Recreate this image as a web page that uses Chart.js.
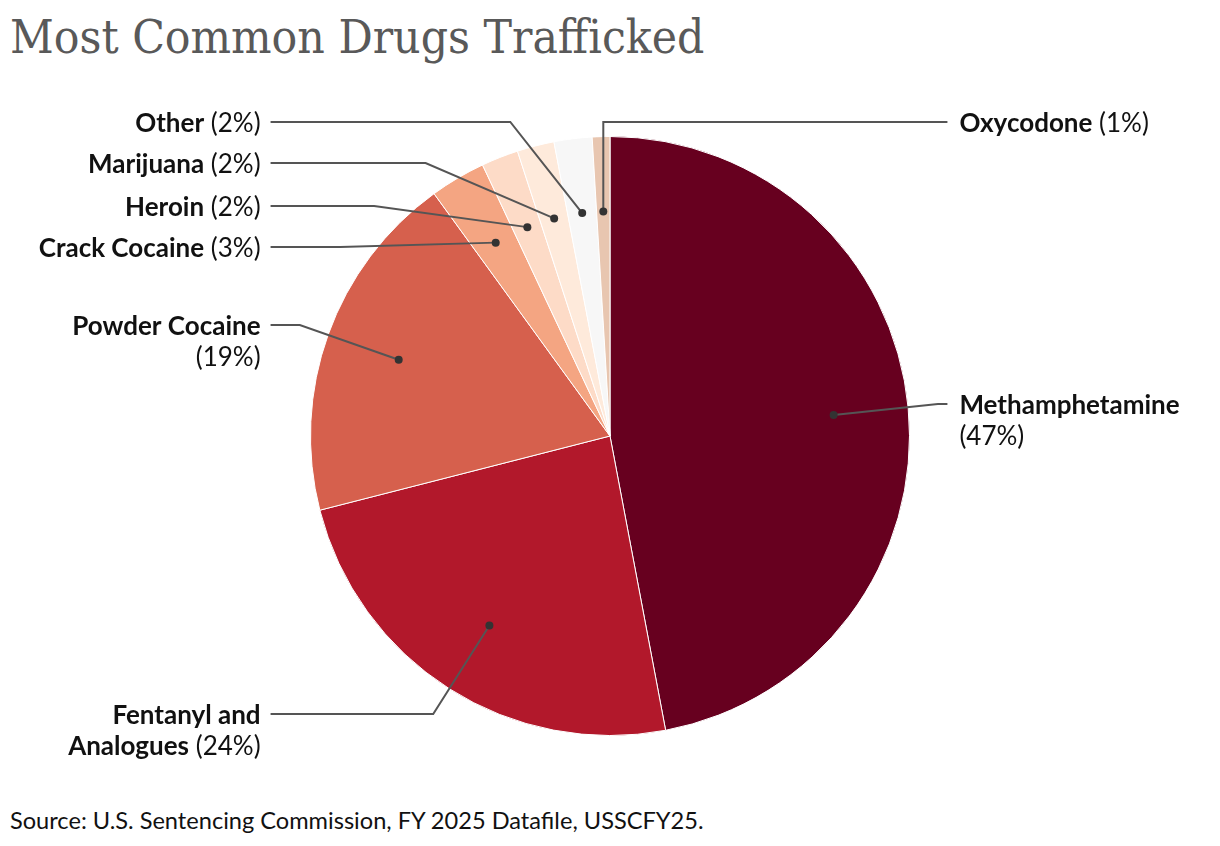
<!DOCTYPE html>
<html>
<head>
<meta charset="utf-8">
<script src="https://cdn.jsdelivr.net/npm/chart.js@4.4.1/dist/chart.umd.min.js"></script>
<style>
  html, body { margin: 0; padding: 0; background: #fff; }
  body { width: 1220px; height: 846px; position: relative; overflow: hidden; }
  #title {
    position: absolute; left: 10px; top: 9px; margin: 0;
    font-family: "DejaVu Serif Condensed", "DejaVu Serif", serif;
    font-weight: normal; font-size: 47.5px; color: #595959; white-space: nowrap;
  }
  #wrap { position: absolute; left: 0; top: 80px; width: 1220px; height: 712px; }
  #source {
    position: absolute; left: 10px; top: 806px;
    font-family: Lato, "Open Sans", sans-serif; font-size: 23.6px; color: #111;
  }
</style>
</head>
<body>
<h1 id="title">Most Common Drugs Trafficked</h1>
<div id="wrap"><canvas id="pie"></canvas></div>
<div id="source">Source: U.S. Sentencing Commission, FY 2025 Datafile, USSCFY25.</div>
<script>
// data, clockwise from 12 o'clock
const drugs = ["Methamphetamine", "Fentanyl and Analogues", "Powder Cocaine", "Crack Cocaine",
               "Heroin", "Marijuana", "Other", "Oxycodone"];
const shares = [47.05, 24.0, 19.0, 3.0, 2.0, 2.0, 2.05, 0.95];
const pctText = ["47%", "24%", "19%", "3%", "2%", "2%", "2%", "1%"];
const colors = ["#67001f", "#b2182b", "#d6604d", "#f4a582", "#fddbc7", "#feeadb", "#f7f7f7", "#e8c6b0"];

// how the labels are written and placed (offset from pie centre)
const nameLines = [["Methamphetamine"], ["Fentanyl and", "Analogues"], ["Powder Cocaine"], ["Crack Cocaine"],
                   ["Heroin"], ["Marijuana"], ["Other"], ["Oxycodone"]];
const pctNewLine = [true, false, true, false, false, false, false, false];
const labelSide = ["right", "left", "left", "left", "left", "left", "left", "right"];
const labelDy = [-32, 278, -111, -189, -230, -273, -314, -314];
const straight = [false, false, false, false, false, false, false, true];

const FONT = "Lato, 'Open Sans', sans-serif";
const FSIZE = 26;

const calloutPlugin = {
  id: "callouts",
  afterDatasetsDraw(chart) {
    const c = chart.ctx;
    const arcs = chart.getDatasetMeta(0).data;
    c.save();
    arcs.forEach((arc, i) => {
      const p = arc.getProps(["x", "y", "startAngle", "endAngle", "outerRadius"], true);
      const r = p.outerRadius;
      const mid = (p.startAngle + p.endAngle) / 2;
      const dx = p.x + Math.cos(mid) * r * 0.75;
      const dy = p.y + Math.sin(mid) * r * 0.75;
      const ly = p.y + labelDy[i];
      const right = labelSide[i] === "right";
      const lx = right ? p.x + r * 1.1667 : p.x - r * 1.1667;
      const lineEnd = right ? lx - 12 : lx + 10;
      let ex;
      if (straight[i]) ex = dx;
      else {
        const R2 = r * 1.1;
        const h = Math.sqrt(Math.max(0, R2 * R2 - (ly - p.y) * (ly - p.y)));
        ex = right ? p.x + h : p.x - h;
      }
      c.strokeStyle = "#555";
      c.lineWidth = 2;
      c.beginPath();
      c.moveTo(dx, dy);
      c.lineTo(ex, ly);
      c.lineTo(lineEnd, ly);
      c.stroke();
      c.fillStyle = "#333";
      c.beginPath();
      c.arc(dx, dy, 4, 0, Math.PI * 2);
      c.fill();

      // text lines made of [text, bold] segments
      const lines = nameLines[i].map(t => [[t, true]]);
      if (pctNewLine[i]) lines.push([["(" + pctText[i] + ")", false]]);
      else lines[lines.length - 1].push([" (" + pctText[i] + ")", false]);
      c.textBaseline = "middle";
      c.fillStyle = "#111";
      lines.forEach((segs, k) => {
        const y = ly + 2 + k * 31;
        const widths = segs.map(([t, b]) => { c.font = (b ? "bold " : "") + FSIZE + "px " + FONT; return c.measureText(t).width; });
        const total = widths.reduce((a, b) => a + b, 0);
        let x = right ? lx : lx - total;
        segs.forEach(([t, b], j) => {
          c.font = (b ? "bold " : "") + FSIZE + "px " + FONT;
          c.textAlign = "left";
          c.fillText(t, x, y);
          x += widths[j];
        });
      });
    });
    c.restore();
  }
};

new Chart(document.getElementById("pie"), {
  type: "pie",
  data: {
    labels: drugs,
    datasets: [{ data: shares, backgroundColor: colors, borderColor: "#fff", borderWidth: 1 }]
  },
  options: {
    responsive: true,
    maintainAspectRatio: false,
    animation: false,
    layout: { padding: { top: 56, bottom: 56 } },
    plugins: { legend: { display: false }, tooltip: { enabled: false } }
  },
  plugins: [calloutPlugin]
});
</script>
</body>
</html>
